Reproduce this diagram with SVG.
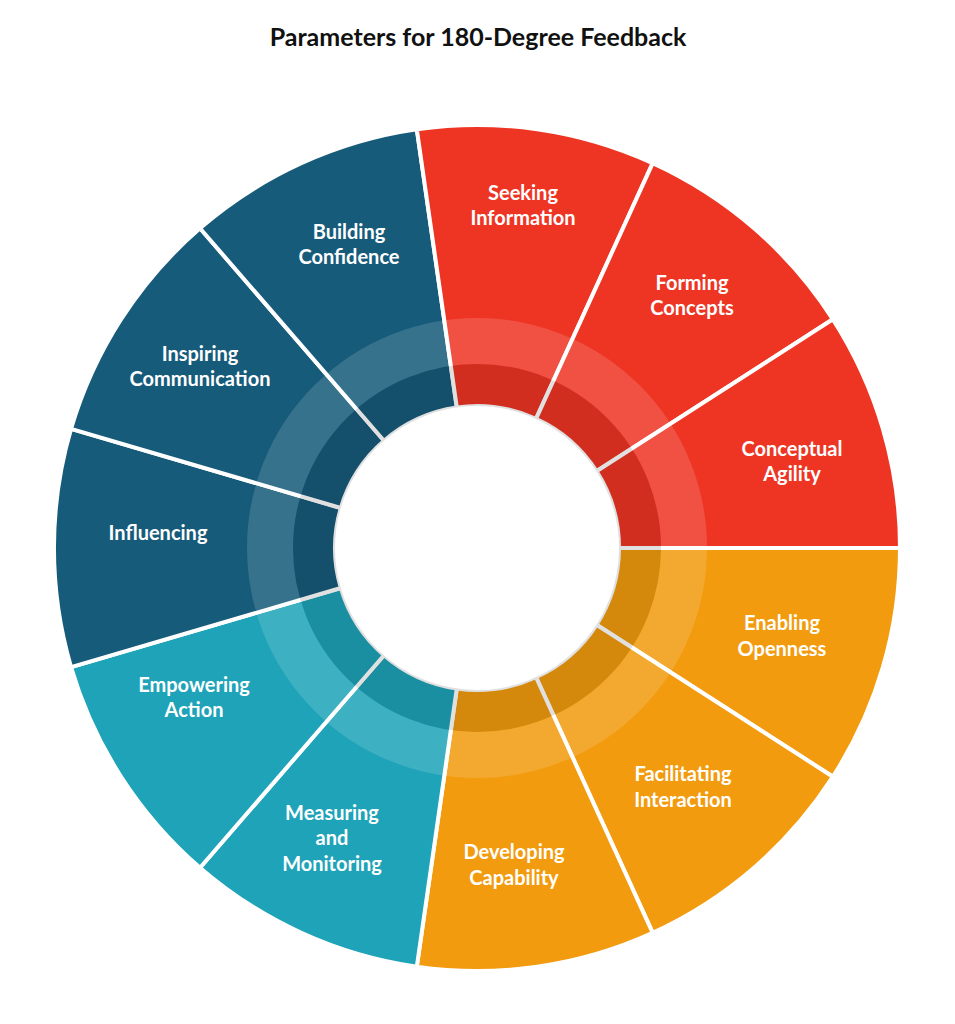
<svg xmlns="http://www.w3.org/2000/svg" width="955" height="1024" viewBox="0 0 955 1024">
<style>
.s{stroke:#fff;stroke-width:4;stroke-linejoin:round}
.r{fill:#EE3524}.o{fill:#F29B0E}.t{fill:#1EA3B8}.b{fill:#175B7A}
.l{font-family:Lato,"Liberation Sans",sans-serif;font-weight:bold;font-size:20px;fill:#fff;text-anchor:middle}
.title{font-family:Lato,"Liberation Sans",sans-serif;font-weight:bold;font-size:25px;fill:#111;text-anchor:middle}
</style>
<rect width="955" height="1024" fill="#fff"/>
<text class="title" x="478" y="46">Parameters for 180-Degree Feedback</text>
<g id="segments">
<g id="enabling"><path class="o s" d="M900,548 A423,423 0 0 1 832.9,776.7 L596.5,624.8 A142,142 0 0 0 619,548 Z"/></g>
<g id="facilitating"><path class="o s" d="M832.9,776.7 A423,423 0 0 1 652.7,932.8 L536,677.2 A142,142 0 0 0 596.5,624.8 Z"/></g>
<g id="developing"><path class="o s" d="M652.7,932.8 A423,423 0 0 1 416.8,966.7 L456.8,688.6 A142,142 0 0 0 536,677.2 Z"/></g>
<g id="measuring"><path class="t s" d="M416.8,966.7 A423,423 0 0 1 200,867.7 L384,655.3 A142,142 0 0 0 456.8,688.6 Z"/></g>
<g id="empowering"><path class="t s" d="M200,867.7 A423,423 0 0 1 71.1,667.2 L340.8,588 A142,142 0 0 0 384,655.3 Z"/></g>
<g id="influencing"><path class="b s" d="M71.1,667.2 A423,423 0 0 1 71.1,428.8 L340.8,508 A142,142 0 0 0 340.8,588 Z"/></g>
<g id="inspiring"><path class="b s" d="M71.1,428.8 A423,423 0 0 1 200,228.3 L384,440.7 A142,142 0 0 0 340.8,508 Z"/></g>
<g id="building"><path class="b s" d="M200,228.3 A423,423 0 0 1 416.8,129.3 L456.8,407.4 A142,142 0 0 0 384,440.7 Z"/></g>
<g id="seeking"><path class="r s" d="M416.8,129.3 A423,423 0 0 1 652.7,163.2 L536,418.8 A142,142 0 0 0 456.8,407.4 Z"/></g>
<g id="forming"><path class="r s" d="M652.7,163.2 A423,423 0 0 1 832.9,319.3 L596.5,471.2 A142,142 0 0 0 536,418.8 Z"/></g>
<g id="conceptual"><path class="r s" d="M832.9,319.3 A423,423 0 0 1 900,548 L619,548 A142,142 0 0 0 596.5,471.2 Z"/></g>
</g>
<g id="ring" fill="none">
<circle cx="477" cy="548" r="207" stroke="#fff" stroke-opacity="0.14" stroke-width="46"/>
<circle cx="477" cy="548" r="163" stroke="#000" stroke-opacity="0.12" stroke-width="42"/>
</g>
<g id="labels">
<text class="l" x="523" y="200">Seeking</text><text class="l" x="523" y="225">Information</text>
<text class="l" x="692" y="290">Forming</text><text class="l" x="692" y="315">Concepts</text>
<text class="l" x="792" y="456">Conceptual</text><text class="l" x="792" y="481">Agility</text>
<text class="l" x="782" y="630">Enabling</text><text class="l" x="782" y="656">Openness</text>
<text class="l" x="683" y="781">Facilitating</text><text class="l" x="683" y="807">Interaction</text>
<text class="l" x="514" y="859">Developing</text><text class="l" x="514" y="885">Capability</text>
<text class="l" x="332" y="820">Measuring</text><text class="l" x="332" y="845">and</text><text class="l" x="332" y="871">Monitoring</text>
<text class="l" x="194" y="692">Empowering</text><text class="l" x="194" y="717">Action</text>
<text class="l" x="158" y="540">Influencing</text>
<text class="l" x="200" y="361">Inspiring</text><text class="l" x="200" y="386">Communication</text>
<text class="l" x="349" y="239">Building</text><text class="l" x="349" y="264">Confidence</text>
</g>
</svg>
